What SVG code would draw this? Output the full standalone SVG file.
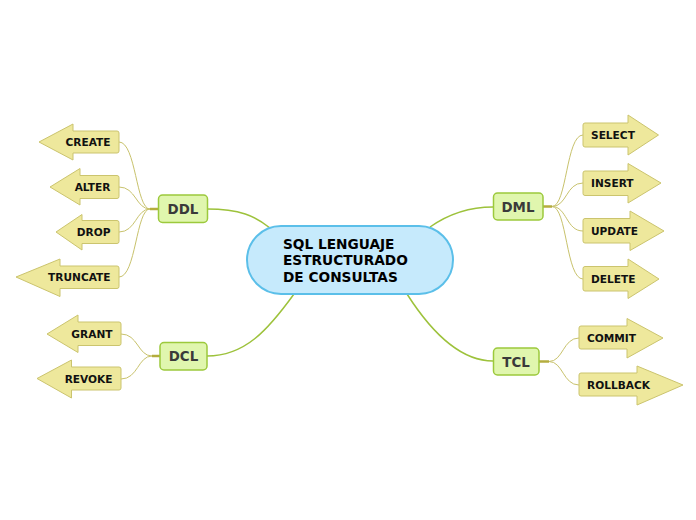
<svg xmlns="http://www.w3.org/2000/svg" width="696" height="520" viewBox="0 0 696 520">
<style>
.main{fill:none;stroke:#9dc23b;stroke-width:1.5}
.sub{fill:none;stroke:#c8c26c;stroke-width:1}
.stub{fill:none;stroke:#b4ad3e;stroke-width:2.5}
.arrow{fill:#eee89c;stroke:#cbc46e;stroke-width:1;stroke-linejoin:round}
.topic{fill:#e0f6ae;stroke:#9cc93c;stroke-width:1.5}
.center{fill:#c6eafc;stroke:#5bbfe9;stroke-width:2}
.tt{font-family:"DejaVu Sans",Verdana,sans-serif;font-weight:bold;font-size:13.4px;fill:#3a3a3a;text-anchor:middle}
.at{font-family:"DejaVu Sans",Verdana,sans-serif;font-weight:bold;font-size:10.6px;fill:#111}
.ct{font-family:"DejaVu Sans",Verdana,sans-serif;font-weight:bold;font-size:13.7px;fill:#000}
</style>
<rect width="696" height="520" fill="#ffffff"/>
<g id="connectors">
<path class="main" d="M207,209 C240,209 255,216 270,228"/>
<path class="main" d="M207,356 C245,356 268,330 294,294"/>
<path class="main" d="M430,227 C450,213 470,207 493,207"/>
<path class="main" d="M407,294 C430,330 460,361 493,361"/>
<path class="stub" d="M150,209 L158,209"/>
<path class="sub" d="M150,209 C136,209 136,142 119,142"/>
<path class="sub" d="M150,209 C136,209 136,187 119,187"/>
<path class="sub" d="M150,209 C136,209 136,232 119,232"/>
<path class="sub" d="M150,209 C136,209 136,277 119,277"/>
<path class="stub" d="M152,356 L160,356"/>
<path class="sub" d="M152,356 C138,356 138,334 121,334"/>
<path class="sub" d="M152,356 C138,356 138,379 121,379"/>
<path class="stub" d="M543,206.5 L552,206.5"/>
<path class="sub" d="M552,206.5 C567,206.5 566,135 583,135"/>
<path class="sub" d="M552,206.5 C567,206.5 566,183 583,183"/>
<path class="sub" d="M552,206.5 C567,206.5 566,231 583,231"/>
<path class="sub" d="M552,206.5 C567,206.5 566,279 583,279"/>
<path class="stub" d="M539,361.5 L549,361.5"/>
<path class="sub" d="M549,361.5 C563,361.5 563,338 579,338"/>
<path class="sub" d="M549,361.5 C563,361.5 563,385 579,385"/>
</g>
<g id="center">
<rect class="center" x="247" y="226" width="206" height="68" rx="34" ry="34"/>
<text class="ct" x="283" y="248.5">SQL LENGUAJE</text>
<text class="ct" x="283" y="265">ESTRUCTURADO</text>
<text class="ct" x="283" y="281.5">DE CONSULTAS</text>
</g>
<g id="ddl">
<rect class="topic" x="158.5" y="195" width="49" height="27.5" rx="4"/>
<text class="tt" x="183" y="213.5">DDL</text>
</g>
<g id="dcl">
<rect class="topic" x="160" y="342.5" width="47" height="27.5" rx="4"/>
<text class="tt" x="183.5" y="361">DCL</text>
</g>
<g id="dml">
<rect class="topic" x="493.5" y="193" width="49.5" height="27" rx="4"/>
<text class="tt" x="518" y="211.5">DML</text>
</g>
<g id="tcl">
<rect class="topic" x="493.5" y="348" width="45.5" height="27" rx="4"/>
<text class="tt" x="516" y="366.5">TCL</text>
</g>
<g id="create">
<path class="arrow" d="M39,142 L73,124 L73,131 L117,131 Q119,131 119,133 L119,151 Q119,153 117,153 L73,153 L73,160 Z"/>
<text class="at" x="110.5" y="146" text-anchor="end">CREATE</text>
</g>
<g id="alter">
<path class="arrow" d="M50,187 L80,168.5 L80,175.5 L117,175.5 Q119,175.5 119,177.5 L119,196.5 Q119,198.5 117,198.5 L80,198.5 L80,205 Z"/>
<text class="at" x="110.5" y="191" text-anchor="end">ALTER</text>
</g>
<g id="drop">
<path class="arrow" d="M56,232 L82,214.5 L82,220.5 L117,220.5 Q119,220.5 119,222.5 L119,241.5 Q119,243.5 117,243.5 L82,243.5 L82,250 Z"/>
<text class="at" x="110.5" y="236" text-anchor="end">DROP</text>
</g>
<g id="truncate">
<path class="arrow" d="M16,277 L60,259 L60,266 L117,266 Q119,266 119,268 L119,286.5 Q119,288.5 117,288.5 L60,288.5 L60,296.5 Z"/>
<text class="at" x="110.5" y="281" text-anchor="end">TRUNCATE</text>
</g>
<g id="grant">
<path class="arrow" d="M47,334 L78,315 L78,322 L119,322 Q121,322 121,324 L121,343.5 Q121,345.5 119,345.5 L78,345.5 L78,352.5 Z"/>
<text class="at" x="112.5" y="338" text-anchor="end">GRANT</text>
</g>
<g id="revoke">
<path class="arrow" d="M37,378.5 L71.5,360 L71.5,367 L119,367 Q121,367 121,369 L121,388 Q121,390 119,390 L71.5,390 L71.5,398 Z"/>
<text class="at" x="112.5" y="382.5" text-anchor="end">REVOKE</text>
</g>
<g id="select">
<path class="arrow" d="M658.5,135 L628,115 L628,123 L585,123 Q583,123 583,125 L583,145 Q583,147 585,147 L628,147 L628,155 Z"/>
<text class="at" x="591" y="139">SELECT</text>
</g>
<g id="insert">
<path class="arrow" d="M661,183 L628,163.5 L628,171 L585,171 Q583,171 583,173 L583,193.5 Q583,195.5 585,195.5 L628,195.5 L628,203 Z"/>
<text class="at" x="591" y="187">INSERT</text>
</g>
<g id="update">
<path class="arrow" d="M664,231 L630,211 L630,218.5 L585,218.5 Q583,218.5 583,220.5 L583,241 Q583,243 585,243 L630,243 L630,250.5 Z"/>
<text class="at" x="591" y="235">UPDATE</text>
</g>
<g id="delete">
<path class="arrow" d="M659,279 L628,259 L628,266.5 L585,266.5 Q583,266.5 583,268.5 L583,289 Q583,291 585,291 L628,291 L628,298.5 Z"/>
<text class="at" x="591" y="283">DELETE</text>
</g>
<g id="commit">
<path class="arrow" d="M663,338 L627,318.5 L627,326 L581,326 Q579,326 579,328 L579,347 Q579,349 581,349 L627,349 L627,358 Z"/>
<text class="at" x="587" y="342">COMMIT</text>
</g>
<g id="rollback">
<path class="arrow" d="M683,385 L637,366 L637,373 L581,373 Q579,373 579,375 L579,394 Q579,396 581,396 L637,396 L637,405 Z"/>
<text class="at" x="587" y="389">ROLLBACK</text>
</g>
</svg>
